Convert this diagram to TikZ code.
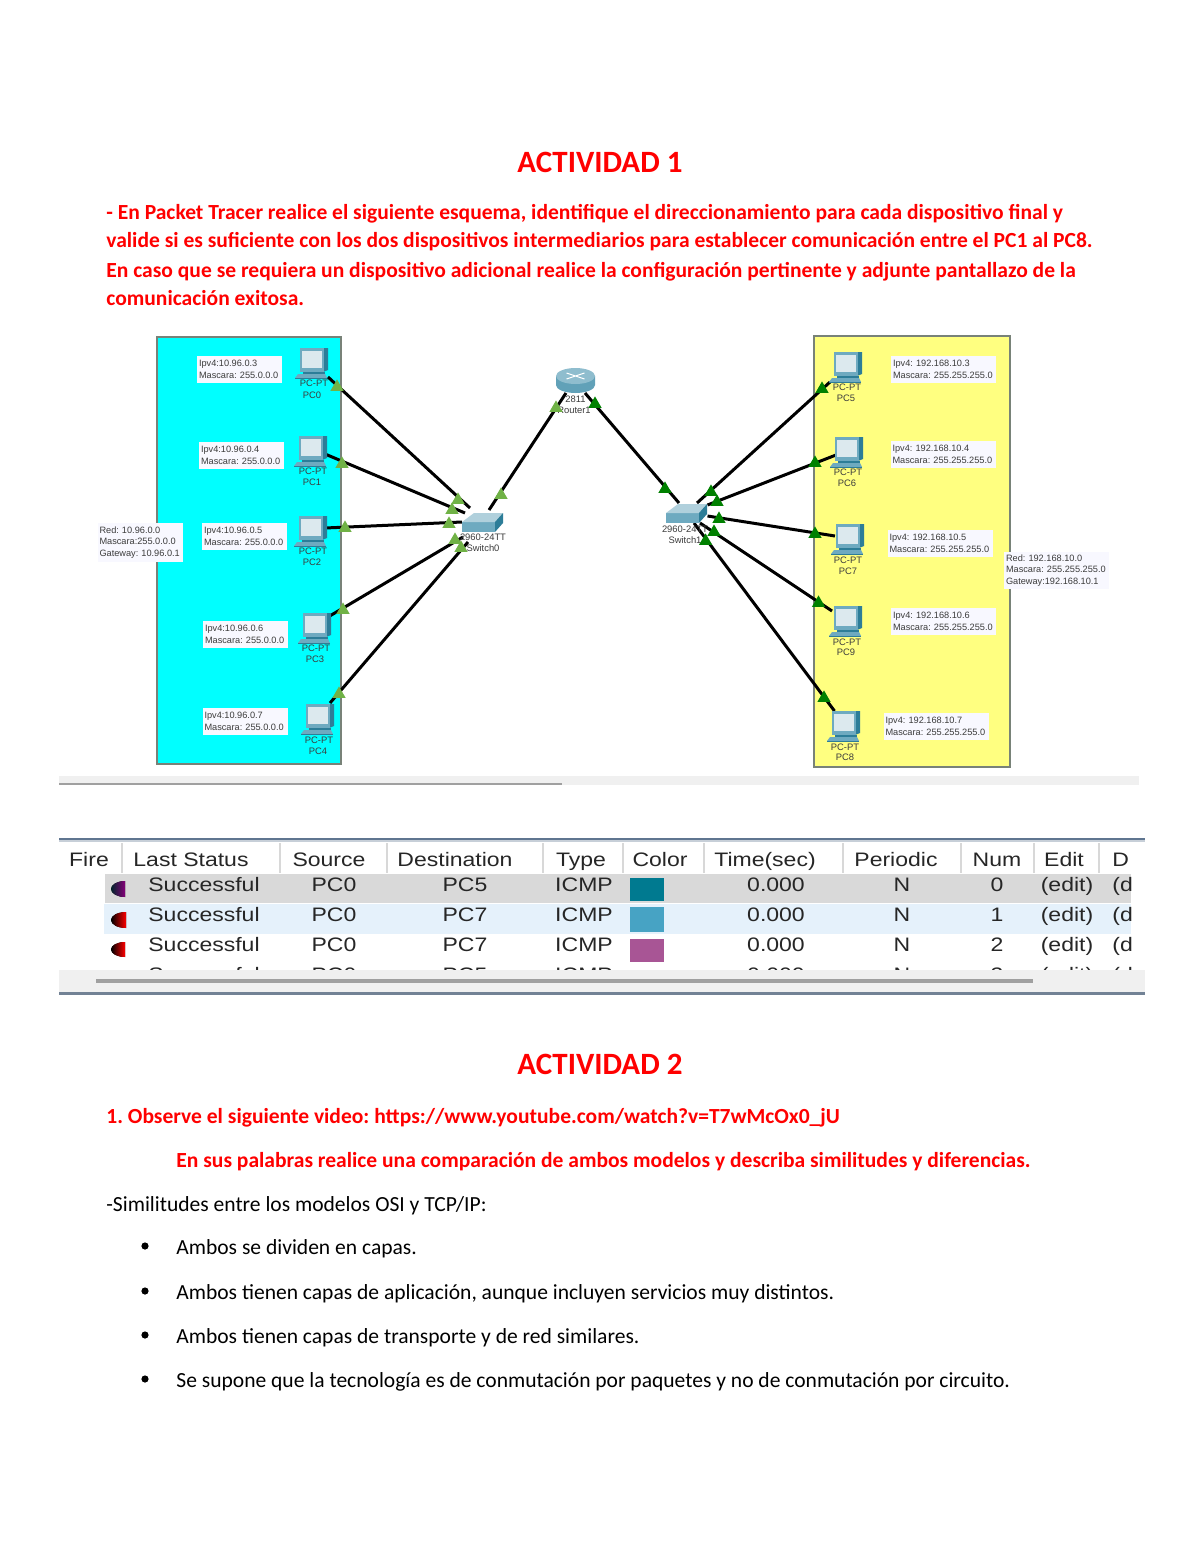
\documentclass[tikz,border=0pt]{standalone}
\usepackage{fontspec}
\setmainfont{Carlito}
\newfontfamily\devfont{Liberation Sans}
\newfontfamily\tablefont[FakeStretch=1.18]{Liberation Sans}
\usepackage{tikz}
\usetikzlibrary{shapes.geometric}
\definecolor{lancyan}{RGB}{0, 255, 255}
\definecolor{lanyellow}{RGB}{255, 255, 128}
\definecolor{zoneedge}{RGB}{120, 130, 120}
\definecolor{boxpaper}{RGB}{248, 248, 255}
\definecolor{devtext}{RGB}{60, 60, 60}
\definecolor{linklight}{RGB}{112, 178, 70}
\definecolor{linkdark}{RGB}{0, 128, 0}
\definecolor{devlight}{RGB}{220, 233, 238}
\definecolor{devmid}{RGB}{110, 170, 192}
\definecolor{devdark}{RGB}{45, 125, 152}
\definecolor{barlight}{RGB}{240, 240, 240}
\definecolor{bardark}{RGB}{160, 160, 160}
\definecolor{tableedge}{RGB}{95, 117, 144}
\definecolor{rowgrey}{RGB}{217, 217, 217}
\definecolor{rowblue}{RGB}{229, 241, 251}
\definecolor{pduteal}{RGB}{0, 122, 144}
\definecolor{pdublue}{RGB}{71, 163, 196}
\definecolor{pdupurple}{RGB}{168, 85, 149}
\tikzset{
  zone/.style={draw=zoneedge, line width=0.6pt},
  infobox/.style={fill=boxpaper, inner xsep=1pt, inner ysep=0pt, align=left, text=devtext, text width=40.5pt, minimum height=13.5pt, font=\devfont\fontsize{4.6}{5.85}\selectfont},
  infowide/.style={infobox, text width=50.5pt},
  devlabel/.style={inner sep=0pt, text=devtext, font=\devfont\fontsize{4.7}{5.8}\selectfont},
  link/.style={line width=1.5pt, black},
  tipa/.style={regular polygon, regular polygon sides=3, fill=linklight, minimum size=7.6pt, inner sep=0pt},
  tipb/.style={tipa, fill=linkdark},
  title/.style={inner sep=0pt, anchor=base, text=red, font=\bfseries\fontsize{15.5}{18}\selectfont},
  redline/.style={inner sep=0pt, anchor=base west, text=red, font=\bfseries\fontsize{10.77}{13}\selectfont},
  blackline/.style={inner sep=0pt, anchor=base west, font=\fontsize{10.77}{13}\selectfont},
  dotmark/.style={circle, fill=black, minimum size=3.6pt, inner sep=0pt},
  tabcell/.style={inner sep=0pt, anchor=base, text=black!85, font=\tablefont\fontsize{9.75}{11}\selectfont},
  pcicon/.pic={
    \fill[devdark] (11,-15) -- (16,-15) -- (16,7) -- (11,9) -- cycle;
    \fill[devmid] (-12,-15) rectangle (12,9);
    \fill[devlight] (-10,-12) rectangle (10,5);
    \fill[devdark] (-9,9) rectangle (13,11);
    \fill[devmid] (-14,11) -- (13,11) -- (15,15) -- (-17,15) -- cycle;
    \fill[devdark] (-17,15) rectangle (15,16);
  },
  switchicon/.pic={
    \fill[devmid] (-20,0) rectangle (13,10);
    \fill[devlight!60!devmid] (-20,0) -- (-8,-9) -- (21,-9) -- (13,0) -- cycle;
    \fill[devdark] (13,0) -- (21,-9) -- (21,1) -- (13,10) -- cycle;
  },
  routericon/.pic={
    \fill[devmid!80!devdark] (-19.5,-4) -- (-19.5,5) arc[start angle=180, end angle=0, x radius=19.5, y radius=8] -- (19.5,-4) -- cycle;
    \fill[devlight!30!devmid] (0,-4) ellipse[x radius=19.5, y radius=8];
    \draw[white, line width=0.5pt] (-9,-7) -- (9,-1) (-9,-1) -- (9,-7);
  },
}
\begin{document}
\frenchspacing
\begin{tikzpicture}[x=0.5pt, y=-0.5pt]

  \fill[white] (0, 0) rectangle (1200, 1553);

  \node[title] (act1) at (600, 172) {ACTIVIDAD 1};
  \node[redline] (l1) at (106, 219) {- En Packet Tracer realice el siguiente esquema, identifique el direccionamiento para cada dispositivo final y};
  \node[redline] (l2) at (106, 247) {valide si es suficiente con los dos dispositivos intermediarios para establecer comunicación entre el PC1 al PC8.};
  \node[redline] (l3) at (106, 277) {En caso que se requiera un dispositivo adicional realice la configuración pertinente y adjunte pantallazo de la};
  \node[redline] (l4) at (106, 305) {comunicación exitosa.};

  \fill[lancyan] (157, 337) rectangle (341, 764);
  \draw[zone] (157, 337) rectangle (341, 764);
  \fill[lanyellow] (814, 336) rectangle (1010, 767);
  \draw[zone] (814, 336) rectangle (1010, 767);

  \node[infobox] (info0) at (239.5, 369.5) {Ipv4:10.96.0.3\\Mascara: 255.0.0.0};
  \node[infobox] (info1) at (241.5, 455.5) {Ipv4:10.96.0.4\\Mascara: 255.0.0.0};
  \node[infobox] (info2) at (244.5, 536.5) {Ipv4:10.96.0.5\\Mascara: 255.0.0.0};
  \node[infobox] (info3) at (245.5, 634) {Ipv4:10.96.0.6\\Mascara: 255.0.0.0};
  \node[infobox] (info4) at (245, 721) {Ipv4:10.96.0.7\\Mascara: 255.0.0.0};
  \node[infobox, minimum height=19.5pt] (redleft) at (140, 542.5) {Red: 10.96.0.0\\Mascara:255.0.0.0\\Gateway: 10.96.0.1};
  \node[infowide] (info5) at (943.5, 369) {Ipv4: 192.168.10.3\\Mascara: 255.255.255.0};
  \node[infowide] (info6) at (943, 454.5) {Ipv4: 192.168.10.4\\Mascara: 255.255.255.0};
  \node[infowide] (info7) at (940, 543) {Ipv4: 192.168.10.5\\Mascara: 255.255.255.0};
  \node[infowide] (info9) at (943.5, 621) {Ipv4: 192.168.10.6\\Mascara: 255.255.255.0};
  \node[infowide] (info8) at (936, 726) {Ipv4: 192.168.10.7\\Mascara: 255.255.255.0};
  \node[infowide, minimum height=18.5pt] (redright) at (1056.5, 570.5) {Red: 192.168.10.0\\Mascara: 255.255.255.0\\Gateway:192.168.10.1};

  \coordinate (pc0) at (328, 377);
  \coordinate (pc1) at (325, 454);
  \coordinate (pc2) at (325, 528);
  \coordinate (pc3) at (328, 617);
  \coordinate (pc4) at (330, 703);
  \coordinate (pc5) at (830, 382);
  \coordinate (pc6) at (836, 455);
  \coordinate (pc7) at (835, 536);
  \coordinate (pc9) at (832, 611);
  \coordinate (pc8) at (834.5, 711);
  \coordinate (sw0a) at (470, 508);
  \coordinate (sw0b) at (465, 513);
  \coordinate (sw0c) at (462, 522);
  \coordinate (sw0d) at (463, 537);
  \coordinate (sw0e) at (468, 542);
  \coordinate (sw0up) at (489, 510);
  \coordinate (rtleft) at (566, 393);
  \coordinate (rtright) at (585, 393);
  \coordinate (sw1up) at (679, 503);
  \coordinate (sw1a) at (697, 503);
  \coordinate (sw1b) at (707.5, 505);
  \coordinate (sw1c) at (707.5, 516);
  \coordinate (sw1d) at (700, 523);
  \coordinate (sw1e) at (694, 523);

  \draw[link] (pc0) -- (sw0a);
  \draw[link] (pc1) -- (sw0b);
  \draw[link] (pc2) -- (sw0c);
  \draw[link] (pc3) -- (sw0d);
  \draw[link] (pc4) -- (sw0e);
  \draw[link] (sw0up) -- (rtleft);
  \draw[link] (rtright) -- (sw1up);
  \draw[link] (sw1a) -- (pc5);
  \draw[link] (sw1b) -- (pc6);
  \draw[link] (sw1c) -- (pc7);
  \draw[link] (sw1d) -- (pc9);
  \draw[link] (sw1e) -- (pc8);

  \pic at (312, 363) {pcicon};
  \pic at (311, 451) {pcicon};
  \pic at (311, 531) {pcicon};
  \pic at (315, 628) {pcicon};
  \pic at (318, 719) {pcicon};
  \pic at (846, 367) {pcicon};
  \pic at (847, 452) {pcicon};
  \pic at (848, 539) {pcicon};
  \pic at (846, 621) {pcicon};
  \pic at (844, 726) {pcicon};
  \pic at (482, 522) {switchicon};
  \pic at (686, 513) {switchicon};
  \pic at (575.5, 380) {routericon};

  \node[devlabel] (pc0t) at (314, 383) {PC-PT};
  \node[devlabel] (pc0n) at (312, 395) {PC0};
  \node[devlabel] (pc1t) at (313, 471) {PC-PT};
  \node[devlabel] (pc1n) at (312, 482) {PC1};
  \node[devlabel] (pc2t) at (313, 551) {PC-PT};
  \node[devlabel] (pc2n) at (312, 562) {PC2};
  \node[devlabel] (pc3t) at (316, 648) {PC-PT};
  \node[devlabel] (pc3n) at (315, 659) {PC3};
  \node[devlabel] (pc4t) at (319, 740) {PC-PT};
  \node[devlabel] (pc4n) at (318, 751) {PC4};
  \node[devlabel] (pc5t) at (847, 387) {PC-PT};
  \node[devlabel] (pc5n) at (846, 398) {PC5};
  \node[devlabel] (pc6t) at (848, 472) {PC-PT};
  \node[devlabel] (pc6n) at (847, 483) {PC6};
  \node[devlabel] (pc7t) at (848, 560) {PC-PT};
  \node[devlabel] (pc7n) at (848, 571) {PC7};
  \node[devlabel] (pc9t) at (847, 642) {PC-PT};
  \node[devlabel] (pc9n) at (846, 652) {PC9};
  \node[devlabel] (pc8t) at (845, 747) {PC-PT};
  \node[devlabel] (pc8n) at (845, 757) {PC8};
  \node[devlabel] (sw0t) at (483, 537) {2960-24TT};
  \node[devlabel] (sw0n) at (483, 548) {Switch0};
  \node[devlabel] (sw1t) at (685, 529) {2960-24TT};
  \node[devlabel] (sw1n) at (685, 540) {Switch1};
  \node[devlabel] (rtt) at (575.5, 399) {2811};
  \node[devlabel] (rtn) at (574, 410) {Router1};

  \node[tipa] (t0a) at (337, 387) {};
  \node[tipa] (t0b) at (458, 500) {};
  \node[tipa] (t1a) at (342, 464) {};
  \node[tipa] (t1b) at (452, 510) {};
  \node[tipa] (t2a) at (345, 528) {};
  \node[tipa] (t2b) at (449, 524) {};
  \node[tipa] (t3a) at (343, 610) {};
  \node[tipa] (t3b) at (455, 540) {};
  \node[tipa] (t4a) at (339, 694) {};
  \node[tipa] (t4b) at (461, 548) {};
  \node[tipa] (tsa) at (501, 495) {};
  \node[tipa] (tsb) at (556, 408) {};
  \node[tipb] (tra) at (595, 404) {};
  \node[tipb] (trb) at (665, 489) {};
  \node[tipb] (t5a) at (711, 492) {};
  \node[tipb] (t5b) at (822, 389) {};
  \node[tipb] (t6a) at (717, 502) {};
  \node[tipb] (t6b) at (815, 463) {};
  \node[tipb] (t7a) at (719, 519) {};
  \node[tipb] (t7b) at (815, 534) {};
  \node[tipb] (t9a) at (714, 532) {};
  \node[tipb] (t9b) at (818.5, 603) {};
  \node[tipb] (t8a) at (705.6, 541) {};
  \node[tipb] (t8b) at (824, 698) {};

  \fill[barlight] (59, 776) rectangle (1139, 785);
  \fill[bardark] (59, 783) rectangle (562, 785);

  \fill[tableedge] (59, 838) rectangle (1145, 840);
  \fill[tableedge!35] (59, 840) rectangle (1145, 842);
  \fill[rowgrey] (105, 874) rectangle (1131, 903);
  \fill[rowblue] (104, 904) rectangle (1131, 934);
  \draw[barlight!90!black, line width=1pt] (122, 843) -- (122, 873);
  \draw[barlight!90!black, line width=1pt] (279.5, 843) -- (279.5, 873);
  \draw[barlight!90!black, line width=1pt] (387, 843) -- (387, 873);
  \draw[barlight!90!black, line width=1pt] (542.5, 843) -- (542.5, 873);
  \draw[barlight!90!black, line width=1pt] (622.5, 843) -- (622.5, 873);
  \draw[barlight!90!black, line width=1pt] (704, 843) -- (704, 873);
  \draw[barlight!90!black, line width=1pt] (843, 843) -- (843, 873);
  \draw[barlight!90!black, line width=1pt] (961, 843) -- (961, 873);
  \draw[barlight!90!black, line width=1pt] (1034, 843) -- (1034, 873);
  \draw[barlight!90!black, line width=1pt] (1099, 843) -- (1099, 873);

  \fill[left color=pduteal!30!black, right color=purple!70!blue] (125, 881) arc[start angle=270, end angle=90, x radius=14, y radius=8] -- cycle;
  \fill[left color=black, right color=red] (126, 912) arc[start angle=270, end angle=90, x radius=15, y radius=8] -- cycle;
  \fill[left color=black, right color=red] (125, 942) arc[start angle=270, end angle=90, x radius=14, y radius=7.5] -- cycle;

  \fill[pduteal] (630, 878) rectangle (664, 901);
  \fill[pdublue] (630, 907) rectangle (664, 932);
  \fill[pdupurple] (630, 939) rectangle (664, 962);

  \node[tabcell] (hfire) at (89, 866) {Fire};
  \node[tabcell] (hstat) at (191, 866) {Last Status};
  \node[tabcell] (hsrc) at (329, 866) {Source};
  \node[tabcell] (hdst) at (455, 866) {Destination};
  \node[tabcell] (htype) at (581, 866) {Type};
  \node[tabcell] (hcol) at (660, 866) {Color};
  \node[tabcell] (htime) at (765, 866) {Time(sec)};
  \node[tabcell] (hper) at (896, 866) {Periodic};
  \node[tabcell] (hnum) at (997, 866) {Num};
  \node[tabcell] (hedit) at (1064, 866) {Edit};
  \node[tabcell, anchor=base west] (hdel) at (1112, 866) {D};

  \node[tabcell] (s0) at (204, 891) {Successful};
  \node[tabcell] (a0) at (334, 891) {PC0};
  \node[tabcell] (b0) at (465, 891) {PC5};
  \node[tabcell] (c0) at (584, 891) {ICMP};
  \node[tabcell] (d0) at (776, 891) {0.000};
  \node[tabcell] (e0) at (902, 891) {N};
  \node[tabcell] (f0) at (997, 891) {0};
  \node[tabcell] (g0) at (1067, 891) {(edit)};
  \node[tabcell, anchor=base west] (k0) at (1112, 891) {(d};

  \node[tabcell] (s1) at (204, 921) {Successful};
  \node[tabcell] (a1) at (334, 921) {PC0};
  \node[tabcell] (b1) at (465, 921) {PC7};
  \node[tabcell] (c1) at (584, 921) {ICMP};
  \node[tabcell] (d1) at (776, 921) {0.000};
  \node[tabcell] (e1) at (902, 921) {N};
  \node[tabcell] (f1) at (997, 921) {1};
  \node[tabcell] (g1) at (1067, 921) {(edit)};
  \node[tabcell, anchor=base west] (k1) at (1112, 921) {(d};

  \node[tabcell] (s2) at (204, 951) {Successful};
  \node[tabcell] (a2) at (334, 951) {PC0};
  \node[tabcell] (b2) at (465, 951) {PC7};
  \node[tabcell] (c2) at (584, 951) {ICMP};
  \node[tabcell] (d2) at (776, 951) {0.000};
  \node[tabcell] (e2) at (902, 951) {N};
  \node[tabcell] (f2) at (997, 951) {2};
  \node[tabcell] (g2) at (1067, 951) {(edit)};
  \node[tabcell, anchor=base west] (k2) at (1112, 951) {(d};

  \node[tabcell] (s3) at (204, 981) {Successful};
  \node[tabcell] (a3) at (334, 981) {PC0};
  \node[tabcell] (b3) at (465, 981) {PC5};
  \node[tabcell] (c3) at (584, 981) {ICMP};
  \node[tabcell] (d3) at (776, 981) {0.000};
  \node[tabcell] (e3) at (902, 981) {N};
  \node[tabcell] (f3) at (997, 981) {3};
  \node[tabcell] (g3) at (1067, 981) {(edit)};
  \node[tabcell, anchor=base west] (k3) at (1112, 981) {(d};

  \fill[barlight] (59, 970) rectangle (1145, 992);
  \fill[white] (59, 995) rectangle (1145, 1010);
  \fill[bardark] (96, 979) rectangle (1033, 983);
  \fill[tableedge!70!bardark] (59, 992) rectangle (1145, 995);

  \node[title] (act2) at (600, 1074) {ACTIVIDAD 2};
  \node[redline] (l5) at (106, 1123) {1. Observe el siguiente video: https://www.youtube.com/watch?v=T7wMcOx0\_jU};
  \node[redline] (l6) at (176, 1167) {En sus palabras realice una comparación de ambos modelos y describa similitudes y diferencias.};
  \node[blackline] (l7) at (106, 1211) {-Similitudes entre los modelos OSI y TCP/IP:};

  \node[dotmark] (m1) at (145, 1246) {};
  \node[dotmark] (m2) at (145, 1291) {};
  \node[dotmark] (m3) at (145, 1335) {};
  \node[dotmark] (m4) at (145, 1379) {};
  \node[blackline] (l8) at (176, 1254) {Ambos se dividen en capas.};
  \node[blackline] (l9) at (176, 1299) {Ambos tienen capas de aplicación, aunque incluyen servicios muy distintos.};
  \node[blackline] (l10) at (176, 1343) {Ambos tienen capas de transporte y de red similares.};
  \node[blackline] (l11) at (176, 1387) {Se supone que la tecnología es de conmutación por paquetes y no de conmutación por circuito.};

\end{tikzpicture}
\end{document}
